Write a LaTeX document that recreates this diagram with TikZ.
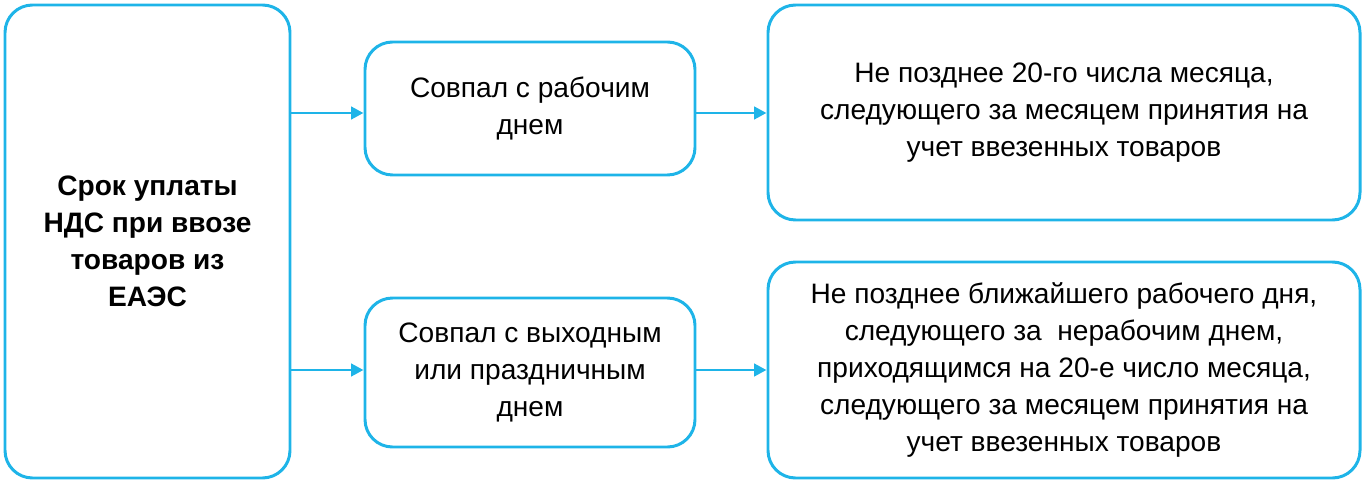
\documentclass[tikz,border=0pt]{standalone}
\usepackage{fontspec}
\setmainfont{Liberation Sans}
\usepackage{tikz}
\usetikzlibrary{arrows.meta}
\definecolor{frameblue}{HTML}{1EB4E8}

\begin{document}
\begin{tikzpicture}
    % --- DEFINE STYLES ---
    \tikzstyle{box} = [draw=frameblue, line width=1.7pt, rounded corners=0.55cm, align=center, inner sep=0pt, font=\fontsize{16}{21}\selectfont]
    \tikzstyle{link} = [draw=frameblue, line width=1.7pt, -{Triangle[length=7pt,width=7pt]}]

    \useasboundingbox (0,0) rectangle (27.44,9.72);

    % Main box
    \node[box, minimum width=5.7cm, minimum height=9.46cm, font=\fontsize{16}{21}\selectfont\bfseries] (term) at (2.95,4.89) {Срок уплаты\\НДС при ввозе\\товаров из\\ЕАЭС};

    % Cases
    \node[box, minimum width=6.6cm, minimum height=2.66cm] (work) at (10.6,7.55) {Совпал с рабочим\\днем};
    \node[box, minimum width=6.6cm, minimum height=2.98cm] (holiday) at (10.6,2.27) {Совпал с выходным\\или праздничным\\днем};

    % Deadlines
    \node[box, minimum width=11.84cm, minimum height=4.3cm] (due1) at (21.28,7.47) {Не позднее 20-го числа месяца,\\следующего за месяцем принятия на\\учет ввезенных товаров};
    \node[box, minimum width=11.84cm, minimum height=4.32cm] (due2) at (21.28,2.32) {Не позднее ближайшего рабочего дня,\\следующего за \ нерабочим днем,\\приходящимся на 20-е число месяца,\\следующего за месяцем принятия на\\учет ввезенных товаров};

    % Connectors
    \draw[link] (term.east |- 0,7.46) -- (work.west |- 0,7.46);
    \draw[link] (term.east |- 0,2.32) -- (holiday.west |- 0,2.32);
    \draw[link] (work.east |- 0,7.46) -- (due1.west |- 0,7.46);
    \draw[link] (holiday.east |- 0,2.32) -- (due2.west |- 0,2.32);
\end{tikzpicture}
\end{document}
